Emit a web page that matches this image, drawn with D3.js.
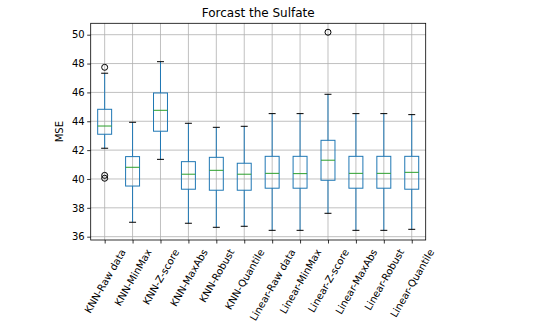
<!DOCTYPE html>
<html><head><meta charset="utf-8">
<script src="https://cdn.jsdelivr.net/npm/d3@7"></script>
<style>body{margin:0;background:#fff}svg{display:block}text{font-family:"DejaVu Sans",sans-serif;fill:#000}</style>
</head><body>
<svg id="c" width="542" height="323"></svg>
<script>
const categories = ["KNN-Raw data","KNN-MinMax","KNN-Z-score","KNN-MaxAbs","KNN-Robust","KNN-Quantile","Linear-Raw data","Linear-MinMax","Linear-Z-score","Linear-MaxAbs","Linear-Robust","Linear-Quantile"];
const whiskerLow = [42.13,37.00,41.36,36.93,36.65,36.72,36.44,36.44,37.62,36.44,36.44,36.51];
const q1 =         [43.10,39.51,43.31,39.29,39.22,39.22,39.36,39.36,39.91,39.36,39.36,39.29];
const median =     [43.67,40.81,44.76,40.33,40.60,40.33,40.39,40.37,41.30,40.39,40.39,40.46];
const q3 =         [44.83,41.55,45.96,41.20,41.50,41.09,41.57,41.57,42.68,41.57,41.57,41.57];
const whiskerHigh =[47.33,43.93,48.13,43.86,43.58,43.65,44.53,44.53,45.87,44.53,44.53,44.46];
const outliers =   [[47.74,40.25,40.05],[],[],[],[],[],[],[],[50.17],[],[],[]];
const yTicks = [36,38,40,42,44,46,48,50];
const title = "Forcast the Sulfate";
const yLabel = "MSE";

const svg = d3.select("#c");
const L = 90.7, R = 425.7, T = 23.3, B = 240;
const x = d3.scaleLinear().domain([0.5, categories.length + 0.5]).range([L, R]);
const y = d3.scaleLinear().domain([35.77, 50.79]).range([B, T]);
const step = x(2) - x(1);

// grid
const g = svg.append("g");
g.selectAll(".gx").data(categories).enter().append("line")
  .attr("x1", (d,i)=>x(i+1)).attr("x2",(d,i)=>x(i+1)).attr("y1",T).attr("y2",B)
  .attr("stroke","#b0b0b0").attr("stroke-width",0.8);
g.selectAll(".gy").data(yTicks).enter().append("line")
  .attr("x1",L).attr("x2",R).attr("y1",d=>y(d)).attr("y2",d=>y(d))
  .attr("stroke","#b0b0b0").attr("stroke-width",0.8);

// boxes
const bw = step*0.5, cw = step*0.25;
const bx = svg.append("g");
categories.forEach((c,i)=>{
  const cx = x(i+1);
  bx.append("line").attr("x1",cx).attr("x2",cx).attr("y1",y(whiskerLow[i])).attr("y2",y(q1[i])).attr("stroke","#1f77b4").attr("stroke-width",1);
  bx.append("line").attr("x1",cx).attr("x2",cx).attr("y1",y(q3[i])).attr("y2",y(whiskerHigh[i])).attr("stroke","#1f77b4").attr("stroke-width",1);
  bx.append("line").attr("x1",cx-cw/2).attr("x2",cx+cw/2).attr("y1",y(whiskerLow[i])).attr("y2",y(whiskerLow[i])).attr("stroke","#000").attr("stroke-width",1);
  bx.append("line").attr("x1",cx-cw/2).attr("x2",cx+cw/2).attr("y1",y(whiskerHigh[i])).attr("y2",y(whiskerHigh[i])).attr("stroke","#000").attr("stroke-width",1);
  bx.append("rect").attr("x",cx-bw/2).attr("width",bw).attr("y",y(q3[i])).attr("height",y(q1[i])-y(q3[i]))
    .attr("fill","none").attr("stroke","#1f77b4").attr("stroke-width",1);
  bx.append("line").attr("x1",cx-bw/2).attr("x2",cx+bw/2).attr("y1",y(median[i])).attr("y2",y(median[i])).attr("stroke","#2ca02c").attr("stroke-width",1);
  outliers[i].forEach(v=>{
    bx.append("circle").attr("cx",cx).attr("cy",y(v)).attr("r",3).attr("fill","none").attr("stroke","#000").attr("stroke-width",1);
  });
});

// axes
const ax = svg.append("g").attr("transform",`translate(0,${B})`)
  .call(d3.axisBottom(x).tickValues(d3.range(1,categories.length+1)).tickFormat(d=>categories[d-1]).tickSize(3.5).tickSizeOuter(0));
ax.select(".domain").remove();
ax.selectAll("line").attr("stroke","#000").attr("stroke-width",0.8);
const s60 = Math.sin(Math.PI/3), c60 = Math.cos(Math.PI/3), lh = 11.6;
ax.selectAll("text").attr("font-size",10).attr("text-anchor","middle").attr("dy",null)
  .attr("y",0).attr("x",0).attr("dominant-baseline","central")
  .each(function(){
    const w = this.getComputedTextLength();
    const hb = w*s60 + lh*c60;
    d3.select(this).attr("transform",`translate(0,${7 + hb/2}) rotate(-60)`);
  });

const ay = svg.append("g").attr("transform",`translate(${L},0)`)
  .call(d3.axisLeft(y).tickValues(yTicks).tickSize(3.5).tickSizeOuter(0));
ay.select(".domain").remove();
ay.selectAll("line").attr("stroke","#000").attr("stroke-width",0.8);
ay.selectAll("text").attr("font-size",10).attr("x",-6);

svg.append("rect").attr("x",L).attr("y",T).attr("width",R-L).attr("height",B-T).attr("fill","none").attr("stroke","#000").attr("stroke-width",0.8);

svg.append("text").attr("x",(L+R)/2).attr("y",T-6).attr("text-anchor","middle").attr("font-size",12).text(title);
svg.append("text").attr("transform",`translate(63,${(T+B)/2}) rotate(-90)`).attr("text-anchor","middle").attr("font-size",10).text(yLabel);
</script>
</body></html>
